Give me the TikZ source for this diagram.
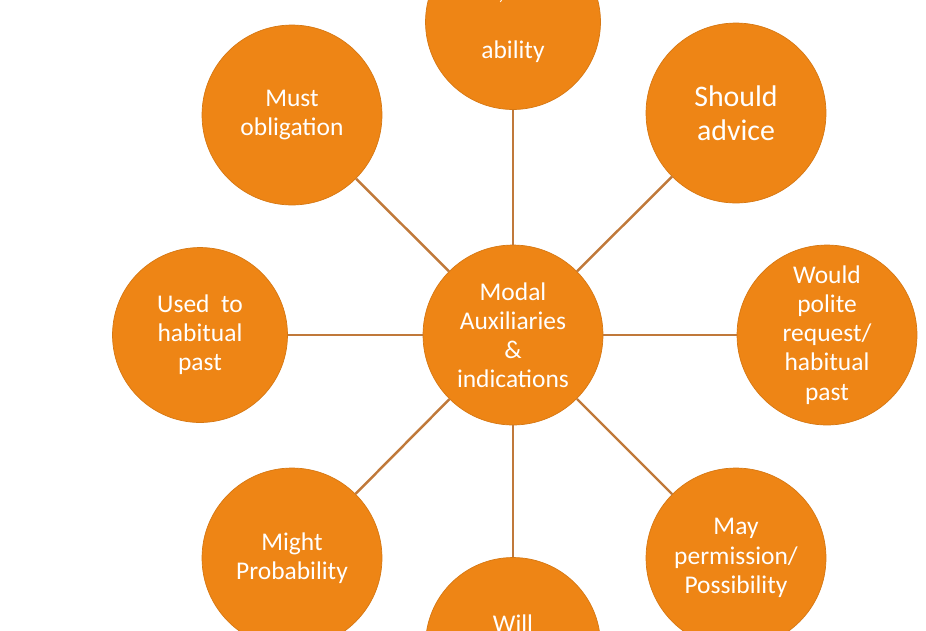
\documentclass[tikz,border=0pt]{standalone}
\usepackage{fontspec}
\setmainfont{Carlito}
\definecolor{org}{HTML}{EE8515}
\definecolor{lnk}{HTML}{C0793A}
\begin{document}
\begin{tikzpicture}[x=0.02cm,y=-0.02cm,
  bub/.style={circle,fill=org,draw=org!90!black,line width=0.4pt,minimum size=3.6cm,inner sep=0pt,text=white,align=center,font=\fontsize{14.5}{16.6}\selectfont},
  lk/.style={draw=lnk,line width=1.4pt}]
\useasboundingbox (0,0) rectangle (926,630);
\clip (0,0) rectangle (926,630);
\node[bub] (c) at (513,335) {Modal\\Auxiliaries\\\&\\indications};
\node[bub,minimum size=3.5cm] (t) at (513,22) {Can, could\\[17pt]ability};
\node[bub,font=\fontsize{17}{19.5}\selectfont] (s) at (736,113) {Should\\advice};
\node[bub] (m) at (292,115) {Must\\obligation};
\node[bub,minimum size=3.5cm] (u) at (200,335) {Used\ \ to\\habitual\\past};
\node[bub] (w) at (827,335) {Would\\polite\\request/\\habitual\\past};
\node[bub] (mi) at (292,558) {Might\\Probability};
\node[bub] (ma) at (736,558) {May\\permission/\\Possibility};
\node[bub,minimum size=3.5cm] (wi) at (513,645) {Will\\[8pt]\mbox{}};
\foreach \n in {t,s,m,u,w,mi,ma,wi} \draw[lk] (c) -- (\n);
\end{tikzpicture}
\end{document}
